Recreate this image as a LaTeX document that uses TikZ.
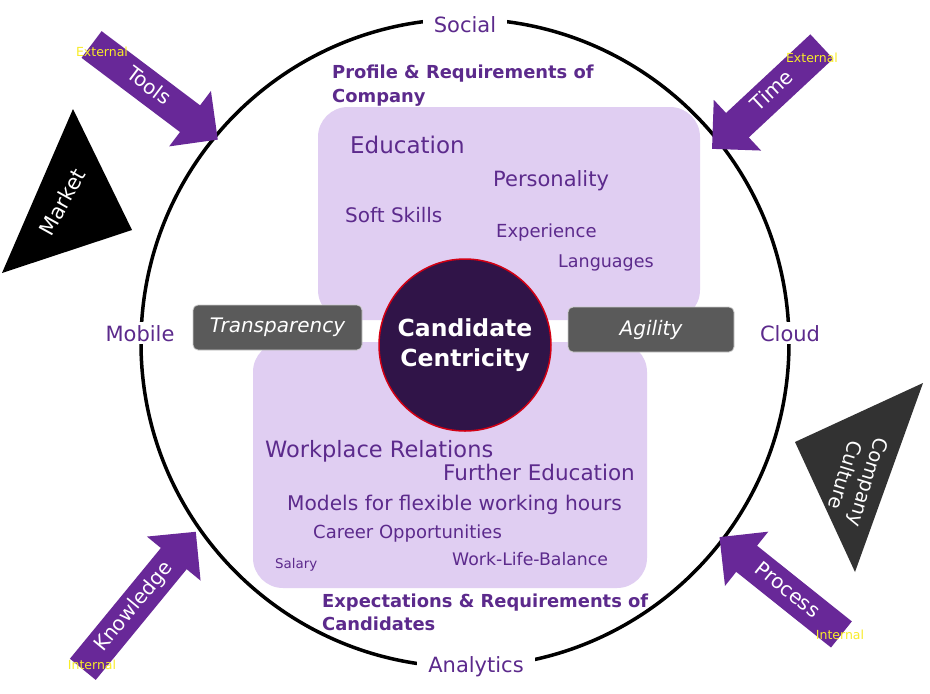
\documentclass[tikz,border=0pt]{standalone}
\usepackage{fontspec}
\setmainfont{DejaVu Sans}
\usepackage{tikz}
\definecolor{tp}{RGB}{92, 42, 140}
\definecolor{ap}{RGB}{104, 40, 152}
\definecolor{lav}{RGB}{224, 206, 242}
\definecolor{dc}{RGB}{48, 20, 72}
\definecolor{rb}{RGB}{210, 0, 20}
\definecolor{gb}{RGB}{90, 90, 90}
\definecolor{ey}{RGB}{248, 236, 40}
\definecolor{cg}{RGB}{50, 50, 50}
\usetikzlibrary{positioning}
\usetikzlibrary{shapes.arrows}

\begin{document}
\begin{tikzpicture}[
lbl/.style={font=\fontsize{#1}{#1}\selectfont, text=tp, anchor=base west, inner sep=0pt},
hdr/.style={font=\fontsize{17.9}{17.9}\selectfont\bfseries, text=tp, anchor=base west, inner sep=0pt},
ring/.style={font=\fontsize{21}{21}\selectfont, text=tp, fill=white, anchor=base, inner xsep=11pt, inner ysep=3pt},
pad/.style={rectangle, fill=lav, rounded corners=30pt},
tag/.style={rectangle, rounded corners=5pt, fill=gb, draw=white!80!black, line width=0.8pt, minimum height=45pt, text=white, font=\fontsize{20}{20}\selectfont\itshape},
force/.style={single arrow, fill=ap, text=white, font=\fontsize{20}{20}\selectfont, single arrow head extend=18pt, inner xsep=2pt, inner ysep=8pt, text height=14pt, text depth=3pt},
side/.style={text=ey, font=\fontsize{12.5}{12.5}\selectfont, inner sep=0pt}]
\useasboundingbox (0pt, 0pt) rectangle (930pt, -694pt);
\fill [white] (0pt, 0pt) rectangle (930pt, -694pt);
\node (ring) [circle, draw=black, line width=3.5pt, minimum size=648pt, inner sep=0pt] at (465pt, -343pt) {};
\node (profile) [pad, minimum width=382pt, minimum height=213pt] at (509pt, -213.5pt) {};
\node (expect) [pad, minimum width=394pt, minimum height=246pt] at (450pt, -465pt) {};
\node (core) [circle, fill=dc, draw=rb, line width=1.5pt, minimum size=172pt, inner sep=0pt, text=white, font=\fontsize{23.5}{30}\selectfont\bfseries, align=center] at (465pt, -345pt) {Candidate\\Centricity};
\node (transp) [tag, minimum width=169pt] at (277.5pt, -327.5pt) {Transparency};
\node (agil) [tag, minimum width=166pt] at (651pt, -329.5pt) {Agility};
% company side
\node (prof1) [hdr] at (332pt, -78pt) {Profile \& Requirements of};
\node (prof2) [hdr] at (332pt, -102pt) {Company};
\node (edu) [lbl=23] at (350pt, -153pt) {Education};
\node (pers) [lbl=21] at (493pt, -186pt) {Personality};
\node (soft) [lbl=20] at (345pt, -222pt) {Soft Skills};
\node (exper) [lbl=18] at (496pt, -237pt) {Experience};
\node (lang) [lbl=17.5] at (558pt, -267pt) {Languages};
% candidate side
\node (work) [lbl=22.5] at (265pt, -457pt) {Workplace Relations};
\node (further) [lbl=21.5] at (443pt, -480pt) {Further Education};
\node (models) [lbl=20.2] at (287pt, -510pt) {Models for flexible working hours};
\node (career) [lbl=18] at (313pt, -538pt) {Career Opportunities};
\node (wlb) [lbl=17.3] at (452pt, -565pt) {Work-Life-Balance};
\node (salary) [lbl=13.4] at (275pt, -568pt) {Salary};
\node (exp1) [hdr] at (322pt, -607pt) {Expectations \& Requirements of};
\node (exp2) [hdr] at (322pt, -630pt) {Candidates};
% ring labels
\node (social) [ring] at (465pt, -32pt) {Social};
\node (mobile) [ring] at (140pt, -341pt) {Mobile};
\node (cloud) [ring] at (790pt, -341pt) {Cloud};
\node (analytics) [ring] at (476pt, -672pt) {Analytics};
% forces
\node (tools) [force, rotate=-37, minimum height=158pt] at (148pt, -87pt) {Tools};
\node (time) [force, rotate=43, shape border rotate=180, minimum height=150pt] at (773pt, -92pt) {Time};
\node (process) [force, rotate=-38.6, shape border rotate=180, minimum height=156pt] at (787pt, -591pt) {Process};
\node (knowledge) [force, rotate=50.6, minimum height=178pt] at (134pt, -607pt) {Knowledge};
\node (ext1) [side] at (102pt, -52pt) {External};
\node (ext2) [side] at (812pt, -58pt) {External};
\node (int1) [side] at (840pt, -635pt) {Internal};
\node (int2) [side] at (92pt, -665pt) {Internal};
% triangles
\fill [black] (73pt, -109pt) -- (132pt, -230pt) -- (2pt, -273pt) -- cycle;
\node (market) [rotate=61, text=white, font=\fontsize{21}{21}\selectfont] at (62pt, -202pt) {Market};
\fill [cg] (923pt, -383pt) -- (795pt, -442pt) -- (855pt, -572pt) -- cycle;
\node (culture) [rotate=-107, text=white, align=center, font=\fontsize{19.5}{24}\selectfont] at (857pt, -479pt) {Company\\Culture};
\end{tikzpicture}
\end{document}
